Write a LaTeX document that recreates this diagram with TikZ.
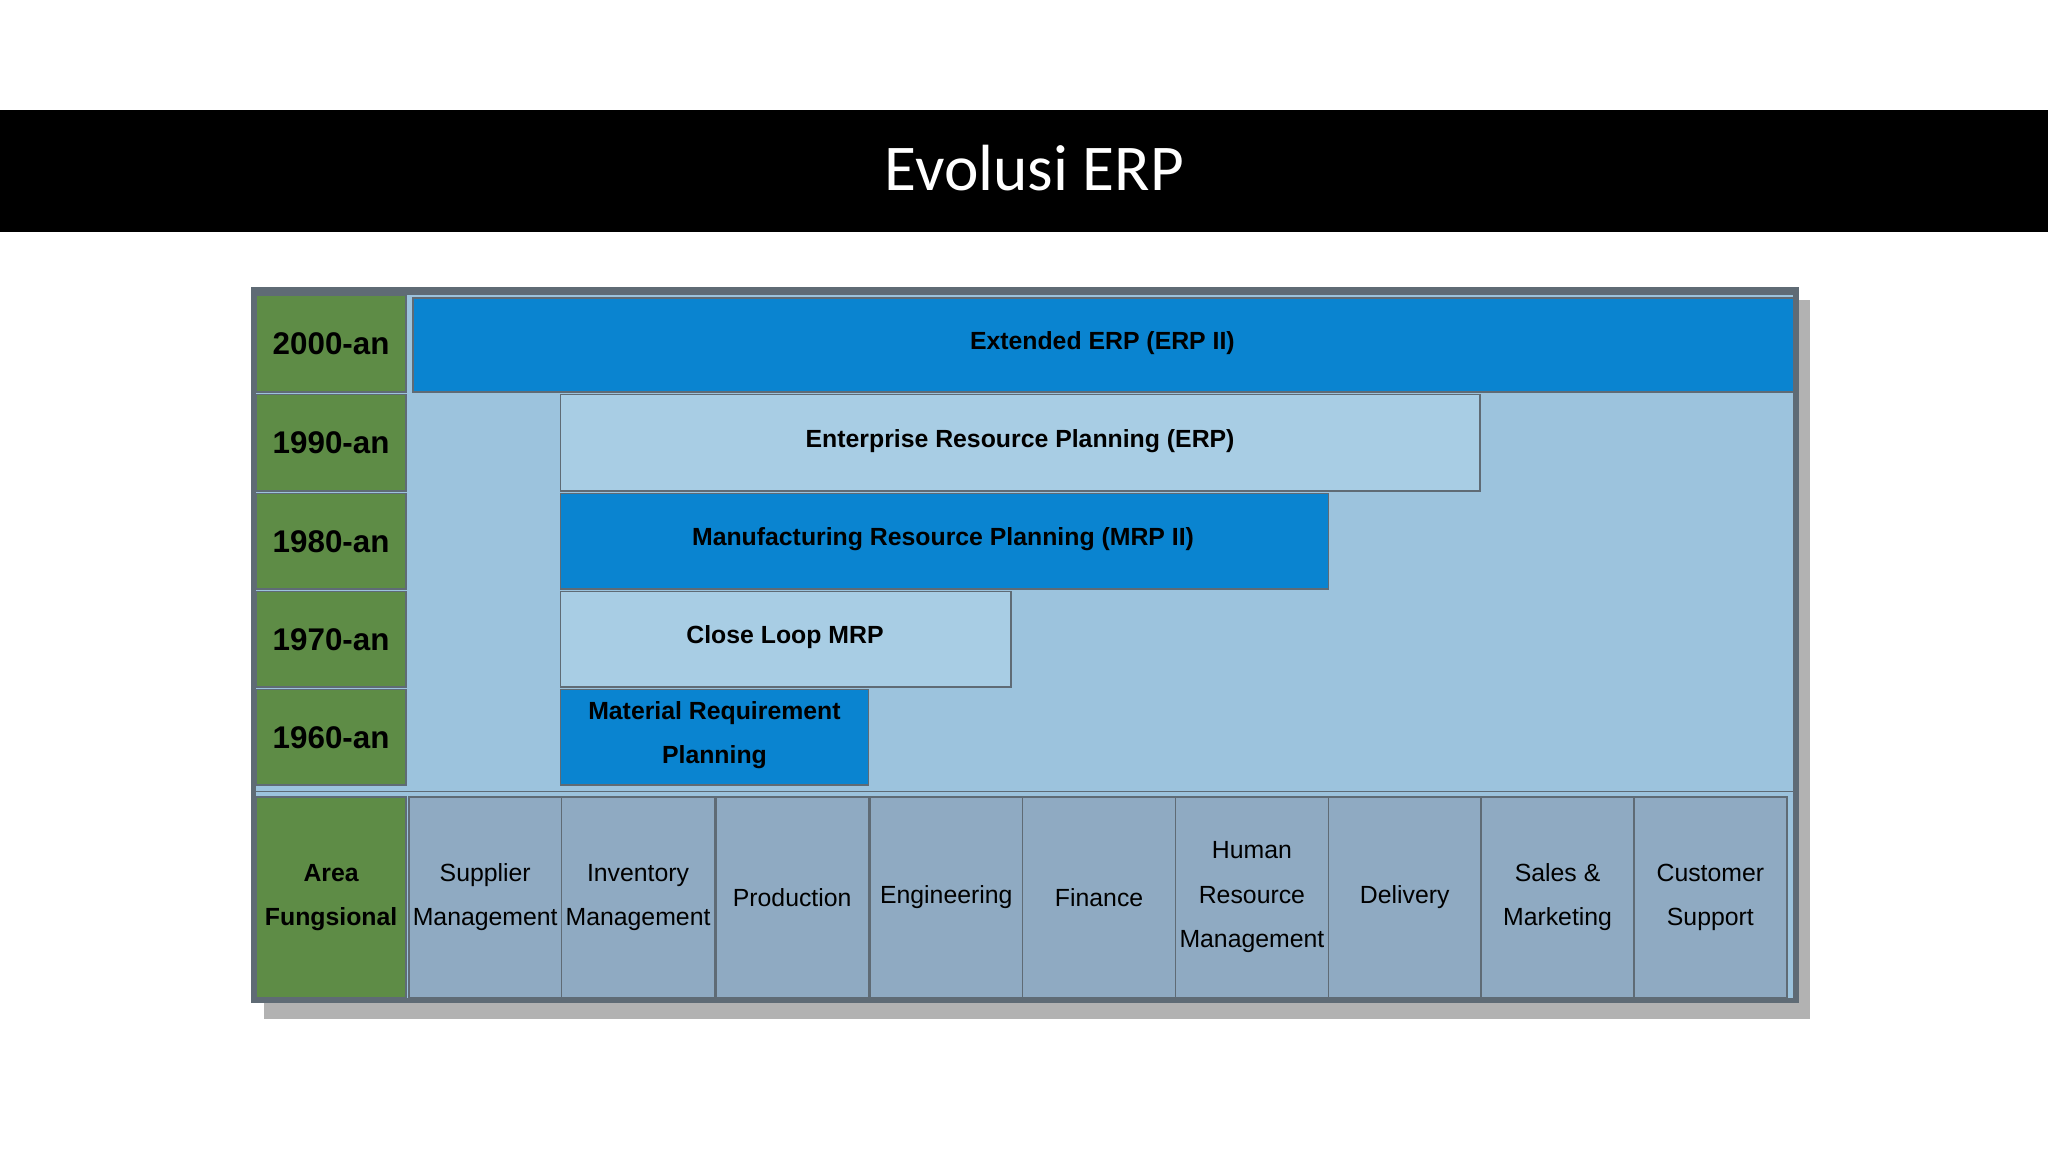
\documentclass[tikz,border=0pt]{standalone}
\usepackage{fontspec}
\setmainfont{Liberation Sans}
\newfontfamily\titlefont{Carlito}
\definecolor{grn}{HTML}{5E8C46}
\definecolor{bg}{HTML}{9CC3DD}
\definecolor{blu}{HTML}{0A84D0}
\definecolor{lbl}{HTML}{A8CDE4}
\definecolor{cell}{HTML}{8FAAC2}
\definecolor{frm}{HTML}{5F6B75}
\begin{document}
\begin{tikzpicture}[x=1pt,y=-1pt,
 yr/.style={draw=frm,fill=grn,line width=1.2pt},
 bar/.style={draw=frm,line width=1.2pt},
 fc/.style={draw=frm,fill=cell,line width=1.2pt},
 yt/.style={font=\bfseries\fontsize{24}{28}\selectfont},
 bt/.style={font=\bfseries\fontsize{19}{34}\selectfont,align=center},
 ft/.style={font=\fontsize{19}{34}\selectfont,align=center,inner sep=0pt}]
\useasboundingbox (0,0) rectangle (1568,882);
\fill[white] (0,0) rectangle (1568,882);
\fill[black] (0,84) rectangle (1568,178);
\node[text=white,font=\titlefont\fontsize{50}{56}\selectfont] (title) at (792,129) {Evolusi ERP};
\fill[gray!60] (202,230) rectangle (1386,780);
\fill[frm] (192,220) rectangle (1377,768);
\fill[bg] (196,226) rectangle (1373,764);
\foreach \n/\t/\b/\lab in {y0/226/300/2000-an,y1/302/376/1990-an,y2/378/451/1980-an,y3/453/526/1970-an,y4/528/601/1960-an}{
 \draw[yr] (196,\t) rectangle (311,\b);
 \node[yt] (\n) at (253.5,{(\t+\b)/2}) {\lab};
}
\draw[bar,fill=blu] (316,228) rectangle (1373,300);
\node[bt] (b0) at (844,263) {Extended ERP (ERP II)};
\draw[bar,fill=lbl] (429,302) rectangle (1133,376);
\node[bt] (b1) at (781,338) {Enterprise Resource Planning (ERP)};
\draw[bar,fill=blu] (429,378) rectangle (1017,451);
\node[bt] (b2) at (722,413) {Manufacturing Resource Planning (MRP II)};
\draw[bar,fill=lbl] (429,453) rectangle (774,526);
\node[bt] (b3) at (601,488) {Close Loop MRP};
\draw[bar,fill=blu] (429,528) rectangle (665,601);
\node[bt] (b4) at (547,563) {Material Requirement\\Planning};
\draw[frm,line width=1.5pt] (196,606) -- (1373,606);
\draw[yr] (196,610) rectangle (311,764);
\node[bt] (af) at (253.5,687) {Area\\Fungsional};
\foreach \i/\x/\lab in {0/313/Supplier\\Management,1/430/Inventory\\Management,2/548/Production,3/666/Engineering,4/783/Finance,5/900/Human\\Resource\\Management,6/1017/Delivery,7/1134/Sales \&\\Marketing,8/1251/Customer\\Support}{
 \draw[fc] (\x,610) rectangle ({\x+117},764);
 \node[ft] (f\i) at ({\x+58.5},687) {\lab};
}
\end{tikzpicture}
\end{document}
